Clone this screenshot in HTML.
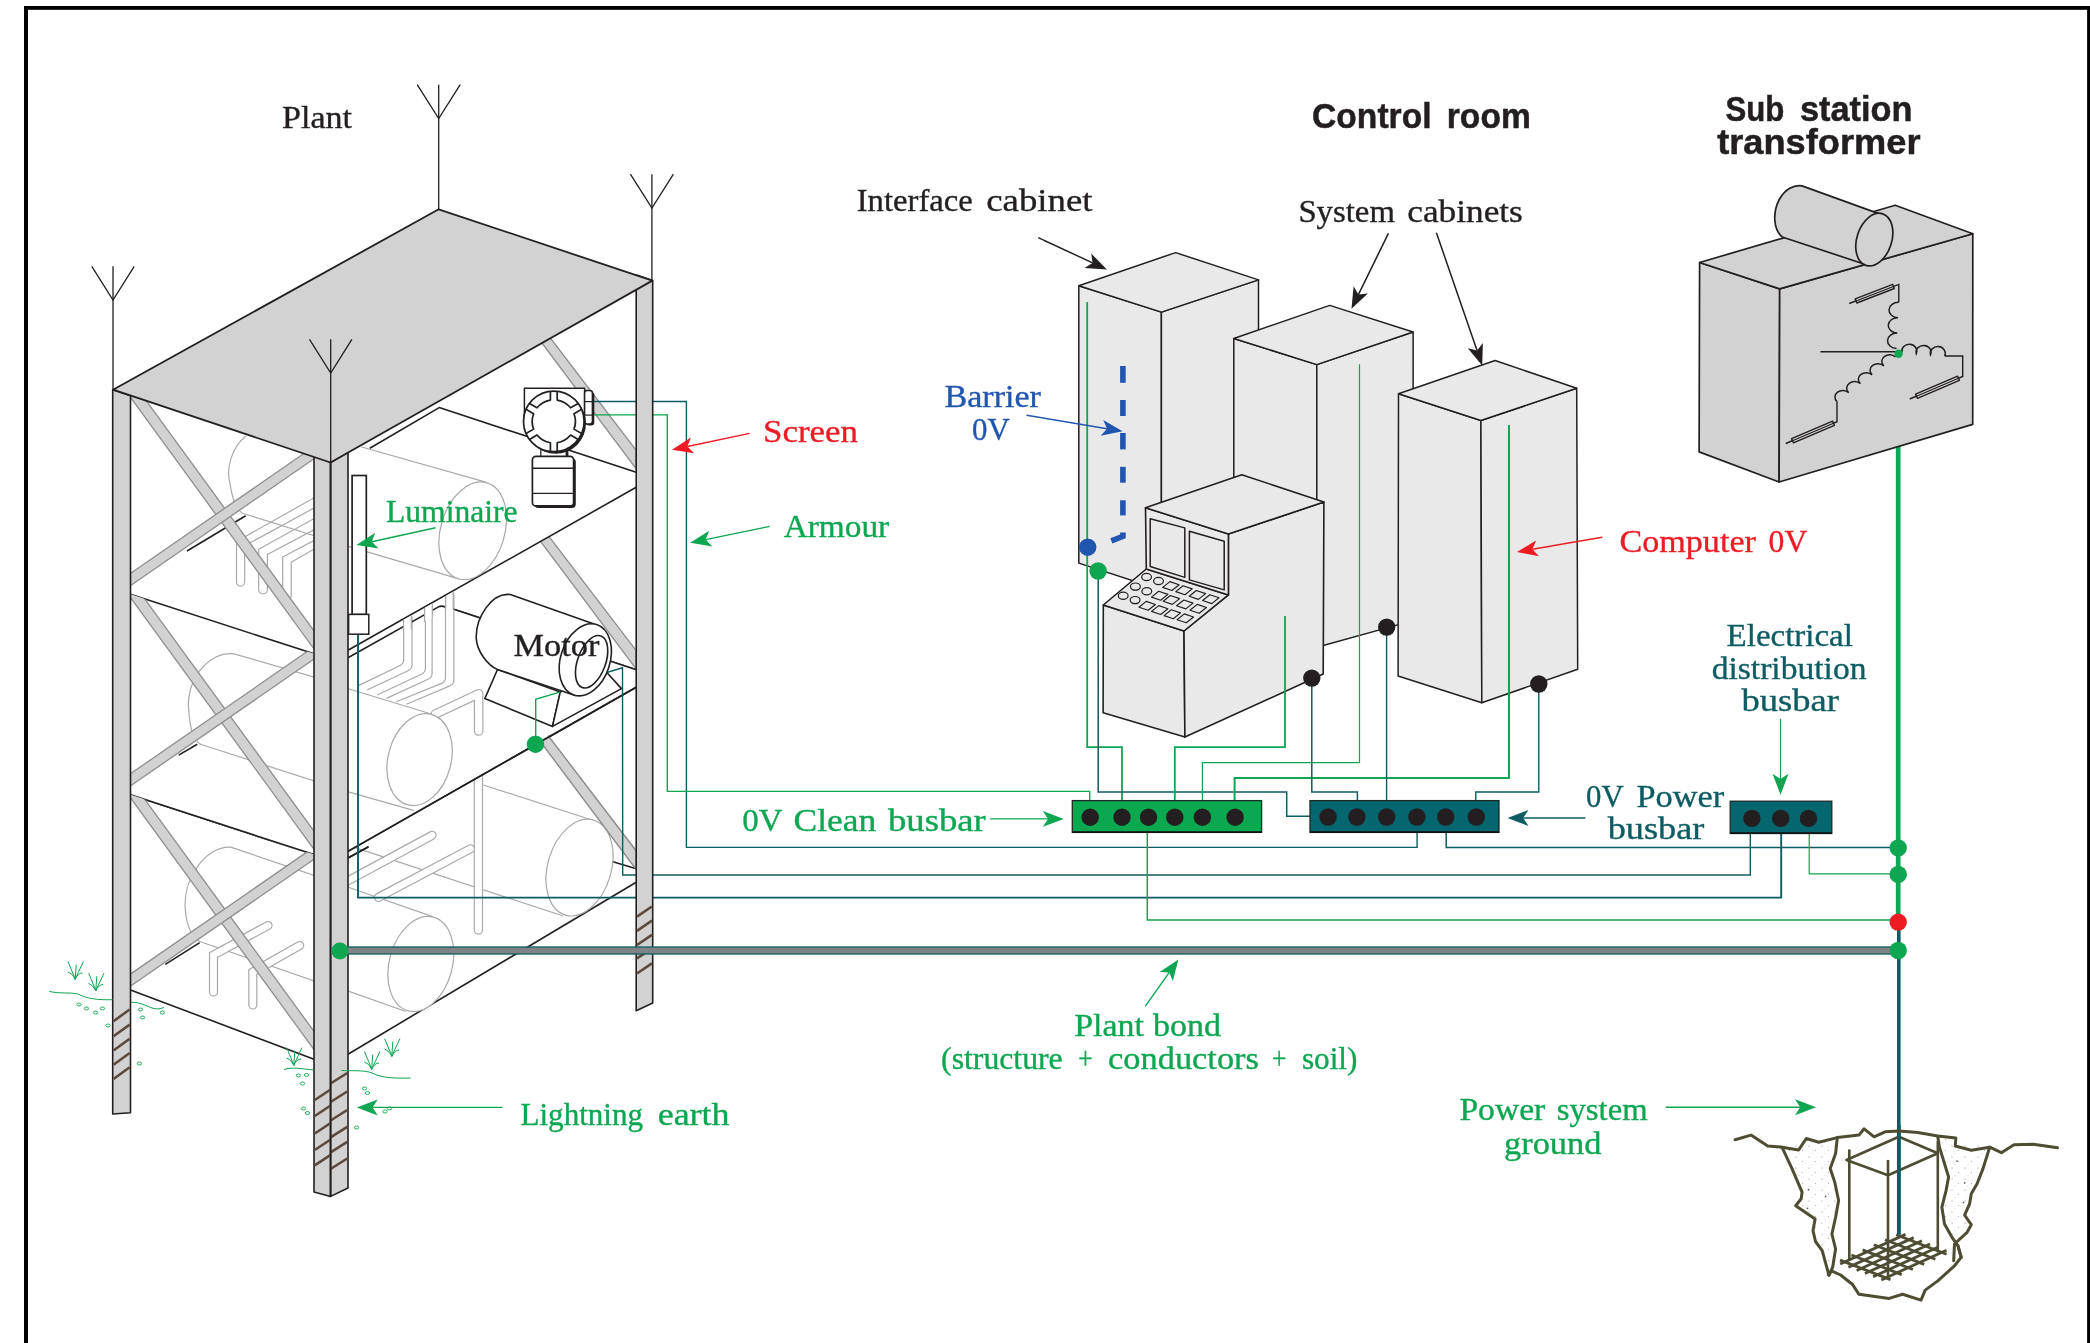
<!DOCTYPE html>
<html><head><meta charset="utf-8"><title>Earthing diagram</title>
<style>
html,body{margin:0;padding:0;background:#fff;overflow:hidden;}
svg{display:block;}
text{font-family:"Liberation Serif",serif;}
.b{font-family:"Liberation Sans",sans-serif;font-weight:bold;}
</style></head><body>
<svg width="2090" height="1343" viewBox="0 0 2090 1343">
<rect x="0" y="0" width="2090" height="1343" fill="#fff"/>
<g id="tower">
<defs>
<clipPath id="bay0"><polygon points="130.5,380.0 314.0,445.0 314.0,653.8 130.5,594.3"/></clipPath>
<clipPath id="bay1"><polygon points="130.5,594.3 314.0,653.8 314.0,854.6 130.5,794.8"/></clipPath>
<clipPath id="bay2"><polygon points="130.5,794.8 314.0,854.6 314.0,1059.2 130.5,989.9"/></clipPath>
<clipPath id="lface"><polygon points="130.5,380.0 314.0,445.0 314.0,1059.2 130.5,989.9"/></clipPath>
<clipPath id="rface"><polygon points="348.0,440.0 636.2,280.0 636.2,885.0 348.0,1056.0"/></clipPath>
</defs>
<line x1="348.0" y1="1054.2" x2="636.2" y2="882.2" stroke="#231f20" stroke-width="1.6" />
<line x1="611.4" y1="861.3" x2="636.2" y2="868.8" stroke="#231f20" stroke-width="1.6" />
<line x1="130.5" y1="989.9" x2="314.0" y2="1059.2" stroke="#231f20" stroke-width="1.6" />
<line x1="165.3" y1="964.4" x2="199.7" y2="942.6" stroke="#231f20" stroke-width="1.6" />
<g clip-path="url(#rface)">
<path d="M592.8,820.3 L483.9,785.2 M562.6,915.8 L348.3,845.4" fill="none" stroke="#a9a9a9" stroke-width="1.2" stroke-linecap="round" stroke-linejoin="round" />
<ellipse cx="579.5" cy="867.6" rx="31.8" ry="49.5" transform="rotate(16.5 579.5 867.6)" fill="#fff" stroke="#a9a9a9" stroke-width="1.2" />
<path d="M432,916.4 L348.3,887.3 M405.2,1011.2 L348.3,991.1" fill="none" stroke="#a9a9a9" stroke-width="1.2" stroke-linecap="round" stroke-linejoin="round" />
<ellipse cx="420.8" cy="964.0" rx="31.5" ry="48.5" transform="rotate(15.0 420.8 964.0)" fill="#fff" stroke="#a9a9a9" stroke-width="1.2" />
<line x1="340.0" y1="885.1" x2="432.0" y2="835.4" stroke="#a9a9a9" stroke-width="9.2" stroke-linecap="round"/>
<line x1="340.0" y1="885.1" x2="432.0" y2="835.4" stroke="#fff" stroke-width="6.8" stroke-linecap="round"/>
<line x1="378.4" y1="897.4" x2="470.5" y2="848.8" stroke="#a9a9a9" stroke-width="9.2" stroke-linecap="round"/>
<line x1="378.4" y1="897.4" x2="470.5" y2="848.8" stroke="#fff" stroke-width="6.8" stroke-linecap="round"/>
<line x1="478.4" y1="770.0" x2="478.4" y2="930.0" stroke="#a9a9a9" stroke-width="9.4" stroke-linecap="round"/>
<line x1="478.4" y1="770.0" x2="478.4" y2="930.0" stroke="#fff" stroke-width="7.0" stroke-linecap="round"/>
</g>
<g clip-path="url(#lface)">
<path d="M314.4,875.6 L230.7,847.1 C205,846 182,880 185.4,910.8 C187,928 193,939 200.5,941.7 L314.4,981" fill="none" stroke="#a9a9a9" stroke-width="1.2" stroke-linecap="round" stroke-linejoin="round" />
<polyline points="213.5,992.0 213.5,955.0 268.0,925.5" fill="none" stroke="#a9a9a9" stroke-width="9.2" stroke-linecap="round" stroke-linejoin="miter"/>
<polyline points="213.5,992.0 213.5,955.0 268.0,925.5" fill="none" stroke="#fff" stroke-width="6.8" stroke-linecap="round" stroke-linejoin="miter"/>
<polyline points="252.8,1005.0 252.8,972.0 299.7,945.5" fill="none" stroke="#a9a9a9" stroke-width="9.2" stroke-linecap="round" stroke-linejoin="miter"/>
<polyline points="252.8,1005.0 252.8,972.0 299.7,945.5" fill="none" stroke="#fff" stroke-width="6.8" stroke-linecap="round" stroke-linejoin="miter"/>
</g>
<polygon points="521.3,700.6 636.2,851.0 636.2,869.4 509.8,700.6" fill="#d2d2d2" stroke="#8e8e8e" stroke-width="1.3" stroke-linejoin="round" />
<polygon points="113.0,787.5 439.7,604.5 652.7,675.0 348.0,851.3 330.6,861.0 130.5,794.8" fill="#fff" stroke="none" stroke-width="0" stroke-linejoin="round" />
<line x1="348.0" y1="851.3" x2="636.2" y2="687.3" stroke="#231f20" stroke-width="1.6" />
<line x1="348.0" y1="858.0" x2="368.5" y2="846.7" stroke="#231f20" stroke-width="1.6" />
<line x1="453.0" y1="608.9" x2="636.2" y2="669.7" stroke="#231f20" stroke-width="1.6" />
<line x1="130.5" y1="794.8" x2="314.0" y2="854.6" stroke="#231f20" stroke-width="1.6" />
<line x1="178.7" y1="755.1" x2="197.2" y2="744.3" stroke="#231f20" stroke-width="1.6" />
<g clip-path="url(#rface)">
<path d="M348.4,688.7 L440.3,716.7 M413.6,810.3 L348.3,791.9" fill="none" stroke="#a9a9a9" stroke-width="1.2" stroke-linecap="round" stroke-linejoin="round" />
<path d="M403.6,620.7 L403.6,660.0 Q403.6,666.0 398.2,668.6 L359.9,687.5" fill="none" stroke="#a9a9a9" stroke-width="1.2" stroke-linecap="round" stroke-linejoin="round" />
<path d="M411.4,617.2 L411.4,664.2 Q411.4,670.2 406.1,672.9 L367.0,692.8" fill="none" stroke="#a9a9a9" stroke-width="1.2" stroke-linecap="round" stroke-linejoin="round" />
<path d="M424.6,608.8 L424.6,667.8 Q424.6,673.8 419.1,676.2 L375.4,695.2" fill="none" stroke="#a9a9a9" stroke-width="1.2" stroke-linecap="round" stroke-linejoin="round" />
<path d="M432.3,605.3 L432.3,673.7 Q432.3,679.7 426.8,682.0 L386.1,698.8" fill="none" stroke="#a9a9a9" stroke-width="1.2" stroke-linecap="round" stroke-linejoin="round" />
<path d="M445.7,596.9 L445.7,674.9 Q445.7,680.9 440.2,683.3 L396.2,702.4" fill="none" stroke="#a9a9a9" stroke-width="1.2" stroke-linecap="round" stroke-linejoin="round" />
<path d="M453.2,592.7 L453.2,677.3 Q453.2,683.3 447.8,685.9 L408.1,705.3" fill="none" stroke="#a9a9a9" stroke-width="1.2" stroke-linecap="round" stroke-linejoin="round" />
<polyline points="213.5,992.0 213.5,955.0 268.0,925.5" fill="none" stroke="#a9a9a9" stroke-width="9.2" stroke-linecap="round" stroke-linejoin="miter"/>
<polyline points="213.5,992.0 213.5,955.0 268.0,925.5" fill="none" stroke="#fff" stroke-width="6.8" stroke-linecap="round" stroke-linejoin="miter"/>
<polyline points="252.8,1005.0 252.8,972.0 299.7,945.5" fill="none" stroke="#a9a9a9" stroke-width="9.2" stroke-linecap="round" stroke-linejoin="miter"/>
<polyline points="252.8,1005.0 252.8,972.0 299.7,945.5" fill="none" stroke="#fff" stroke-width="6.8" stroke-linecap="round" stroke-linejoin="miter"/>
</g>
<polygon points="521.3,700.6 636.2,851.0 636.2,869.4 509.8,700.6" fill="#d2d2d2" stroke="#8e8e8e" stroke-width="1.3" stroke-linejoin="round" />
<polygon points="113.0,787.5 439.7,604.5 652.7,675.0 348.0,851.3 330.6,861.0 130.5,794.8" fill="#fff" stroke="none" stroke-width="0" stroke-linejoin="round" />
<line x1="348.0" y1="851.3" x2="636.2" y2="687.3" stroke="#231f20" stroke-width="1.6" />
<line x1="348.0" y1="858.0" x2="368.5" y2="846.7" stroke="#231f20" stroke-width="1.6" />
<line x1="453.0" y1="608.9" x2="636.2" y2="669.7" stroke="#231f20" stroke-width="1.6" />
<line x1="130.5" y1="794.8" x2="314.0" y2="854.6" stroke="#231f20" stroke-width="1.6" />
<line x1="178.7" y1="755.1" x2="197.2" y2="744.3" stroke="#231f20" stroke-width="1.6" />
<g clip-path="url(#rface)">
<path d="M348.4,688.7 L440.3,716.7 M413.6,810.3 L348.3,791.9" fill="none" stroke="#a9a9a9" stroke-width="1.2" stroke-linecap="round" stroke-linejoin="round" />
<path d="M403.7,620.3 L403.7,659.8 Q403.7,663.8 399.7,665.8 L358.4,685.6" fill="none" stroke="#a9a9a9" stroke-width="1.2" stroke-linecap="round" stroke-linejoin="round" />
<path d="M412.0,616.9 L412.0,664.8 Q412.0,668.8 408.0,670.8 L367.6,689.8" fill="none" stroke="#a9a9a9" stroke-width="1.2" stroke-linecap="round" stroke-linejoin="round" />
<path d="M425.4,610.2 L425.4,668.2 Q425.4,672.2 421.4,674.2 L377.7,694.8" fill="none" stroke="#a9a9a9" stroke-width="1.2" stroke-linecap="round" stroke-linejoin="round" />
<path d="M432.1,606.0 L432.1,673.2 Q432.1,677.2 428.1,679.2 L386.9,698.1" fill="none" stroke="#a9a9a9" stroke-width="1.2" stroke-linecap="round" stroke-linejoin="round" />
<path d="M445.5,598.5 L445.5,677.4 Q445.5,681.4 441.5,683.4 L397.0,701.5" fill="none" stroke="#a9a9a9" stroke-width="1.2" stroke-linecap="round" stroke-linejoin="round" />
<path d="M453.9,593.5 L453.9,679.9 Q453.9,683.9 449.9,685.9 L407.0,704.0" fill="none" stroke="#a9a9a9" stroke-width="1.2" stroke-linecap="round" stroke-linejoin="round" />
<polyline points="435.5,714.0 478.6,693.8 478.7,731.0" fill="none" stroke="#a9a9a9" stroke-width="9.6" stroke-linecap="round" stroke-linejoin="round"/>
<polyline points="435.5,714.0 478.6,693.8 478.7,731.0" fill="none" stroke="#fff" stroke-width="7.2" stroke-linecap="round" stroke-linejoin="round"/>
<ellipse cx="419.6" cy="759.6" rx="31.5" ry="46.7" transform="rotate(14.5 419.6 759.6)" fill="#fff" stroke="#a9a9a9" stroke-width="1.2" />
</g>
<g clip-path="url(#lface)">
<path d="M314.4,677.3 L234,653.8 C206,651 185,684 188.8,710.7 C190,730 195,741 200.5,744.3 L314.4,781.1" fill="none" stroke="#a9a9a9" stroke-width="1.2" stroke-linecap="round" stroke-linejoin="round" />
</g>
<polygon points="521.3,500.3 636.2,650.7 636.2,669.1 509.8,500.3" fill="#d2d2d2" stroke="#8e8e8e" stroke-width="1.3" stroke-linejoin="round" />
<path d="M497.5,669.5 L484.8,698.6 L552.5,726.4 L560.3,691.9 Z" fill="#fff" stroke="#231f20" stroke-width="1.6" stroke-linejoin="round"/>
<path d="M552.5,726.4 L621.5,688.6 L606.8,672.5 L560.3,691.9 Z" fill="#fff" stroke="#231f20" stroke-width="1.6" stroke-linejoin="round"/>
<path d="M510.3,594.5 L594.0,624.0 L575.3,695.5 L497.5,669.5 C488.8,665.8 476.8,652.4 476.2,637.6 C475.8,618.9 490.8,592.1 510.3,594.5 Z" fill="#fff" stroke="#231f20" stroke-width="1.6" stroke-linejoin="round"/>
<ellipse cx="585.3" cy="659.8" rx="24.7" ry="37.0" transform="rotate(18.0 585.3 659.8)" fill="#fff" stroke="#231f20" stroke-width="1.6" />
<ellipse cx="591.6" cy="661.8" rx="14.0" ry="27.4" transform="rotate(20.0 591.6 661.8)" fill="#fff" stroke="#231f20" stroke-width="1.6" />
<polyline points="560.3,691.9 535.7,699.3 535.7,744.2" fill="none" stroke="#0ea651" stroke-width="1.4" />
<circle cx="535.5" cy="744.2" r="8.7" fill="#0ea651" />
<polyline points="606.8,672.5 622.5,667.8 622.7,875.0 1750.3,875.0 1750.3,833.0" fill="none" stroke="#0d5c63" stroke-width="1.4" />
<polygon points="113.0,587.0 439.7,408.2 652.7,478.0 348.0,651.5 330.6,661.0 130.5,594.3" fill="#fff" stroke="none" stroke-width="0" stroke-linejoin="round" />
<line x1="348.0" y1="650.3" x2="636.2" y2="487.3" stroke="#231f20" stroke-width="1.6" />
<path d="M348.0,657.7 L438.5,606.9 Q441.5,605.2 445.1,607" fill="none" stroke="#231f20" stroke-width="1.6" />
<polyline points="369.8,448.2 439.2,407.6 636.2,472.2" fill="none" stroke="#231f20" stroke-width="1.6" stroke-linejoin="round"/>
<line x1="187.0" y1="551.0" x2="245.7" y2="515.7" stroke="#231f20" stroke-width="1.6" />
<line x1="130.5" y1="594.3" x2="314.0" y2="653.8" stroke="#231f20" stroke-width="1.6" />
<polygon points="403.6,619.8 411.4,615.4 411.4,629.4 403.6,633.8" fill="#fff" stroke="none" stroke-width="0" stroke-linejoin="round" />
<line x1="403.6" y1="619.8" x2="403.6" y2="633.8" stroke="#a9a9a9" stroke-width="1.2" />
<line x1="411.4" y1="615.4" x2="411.4" y2="629.4" stroke="#a9a9a9" stroke-width="1.2" />
<polygon points="424.6,607.9 432.3,603.6 432.3,617.6 424.6,621.9" fill="#fff" stroke="none" stroke-width="0" stroke-linejoin="round" />
<line x1="424.6" y1="607.9" x2="424.6" y2="621.9" stroke="#a9a9a9" stroke-width="1.2" />
<line x1="432.3" y1="603.6" x2="432.3" y2="617.6" stroke="#a9a9a9" stroke-width="1.2" />
<polygon points="445.7,596.0 453.2,591.7 453.2,605.7 445.7,610.0" fill="#fff" stroke="none" stroke-width="0" stroke-linejoin="round" />
<line x1="445.7" y1="596.0" x2="445.7" y2="610.0" stroke="#a9a9a9" stroke-width="1.2" />
<line x1="453.2" y1="591.7" x2="453.2" y2="605.7" stroke="#a9a9a9" stroke-width="1.2" />
<g clip-path="url(#rface)">
<path d="M485.7,482.2 L361.8,447 M460.6,579.4 L348.4,546.3" fill="none" stroke="#a9a9a9" stroke-width="1.2" stroke-linecap="round" stroke-linejoin="round" />
<ellipse cx="472.7" cy="530.8" rx="32.0" ry="50.0" transform="rotate(16.5 472.7 530.8)" fill="#fff" stroke="#a9a9a9" stroke-width="1.2" />
</g>
<g clip-path="url(#lface)">
<path d="M245.7,436.2 C232,447 226,468 229.8,482.2 C232,499 236,509 242.4,513.2 L314.4,535.8" fill="none" stroke="#a9a9a9" stroke-width="1.2" stroke-linecap="round" stroke-linejoin="round" />
<path d="M313.9,497.9 L236.5,541.4 L236.5,582 A4.1,4.1 0 0 0 244.7,582 L244.7,545.8 L313.9,508.1" fill="none" stroke="#a9a9a9" stroke-width="1.2" stroke-linecap="round" stroke-linejoin="round" />
<path d="M313.9,518.7 L258.7,549.2 L258.7,589.4 A4.35,4.35 0 0 0 267.4,589.4 L267.4,554.5 L313.9,529.9" fill="none" stroke="#a9a9a9" stroke-width="1.2" stroke-linecap="round" stroke-linejoin="round" />
<path d="M313.9,540.5 L282.7,557 L282.7,596 A4.25,4.25 0 0 0 291.2,596 L291.2,562.3 L313.9,549.2" fill="none" stroke="#a9a9a9" stroke-width="1.2" stroke-linecap="round" stroke-linejoin="round" />
</g>
<polygon points="521.3,300.0 636.2,450.4 636.2,468.8 509.8,300.0" fill="#d2d2d2" stroke="#8e8e8e" stroke-width="1.3" stroke-linejoin="round" />
<g stroke-linejoin="round">
<path d="M524.4,422 L524.4,388.3 L584.6,388.3 L584.6,422" fill="#fff" stroke="#231f20" stroke-width="1.5" />
<rect x="586.0" y="392.0" width="8.3" height="33.4" rx="3" fill="#231f20"/>
<rect x="584.6" y="390.6" width="7.8" height="33.4" rx="2.5" fill="#fff" stroke="#231f20" stroke-width="1.5"/>
<line x1="584.6" y1="401.6" x2="592.4" y2="401.6" stroke="#231f20" stroke-width="1.2" />
<line x1="584.6" y1="415.1" x2="592.4" y2="415.1" stroke="#231f20" stroke-width="1.2" />
<rect x="540.2" y="449" width="28.2" height="9" fill="#231f20"/>
<rect x="541.4" y="449" width="24.2" height="9" fill="#fff"/>
<circle cx="555.7" cy="423.5" r="30.3" fill="#231f20" />
<circle cx="553.8" cy="421.4" r="30.3" fill="#fff" stroke="#231f20" stroke-width="1.7"/>
<path d="M557.20,391.29 L557.20,400.07 A21.6,21.6 0 0 1 570.57,407.79 L578.17,403.40" fill="none" stroke="#231f20" stroke-width="1.7" />
<path d="M581.57,409.29 L573.97,413.68 A21.6,21.6 0 0 1 573.97,429.12 L581.57,433.51" fill="none" stroke="#231f20" stroke-width="1.7" />
<path d="M578.17,439.40 L570.57,435.01 A21.6,21.6 0 0 1 557.20,442.73 L557.20,451.51" fill="none" stroke="#231f20" stroke-width="1.7" />
<path d="M550.40,451.51 L550.40,442.73 A21.6,21.6 0 0 1 537.03,435.01 L529.43,439.40" fill="none" stroke="#231f20" stroke-width="1.7" />
<path d="M526.03,433.51 L533.63,429.12 A21.6,21.6 0 0 1 533.63,413.68 L526.03,409.29" fill="none" stroke="#231f20" stroke-width="1.7" />
<path d="M529.43,403.40 L537.03,407.79 A21.6,21.6 0 0 1 550.40,400.07 L550.40,391.29" fill="none" stroke="#231f20" stroke-width="1.7" />
<rect x="534.4" y="458.3" width="41.4" height="49.8" rx="4" fill="#231f20"/>
<rect x="532.4" y="456.3" width="41.2" height="49.6" rx="3.5" fill="#fff" stroke="#231f20" stroke-width="1.7"/>
<line x1="532.4" y1="468.3" x2="573.6" y2="468.3" stroke="#231f20" stroke-width="1.4" />
<line x1="532.4" y1="493.4" x2="573.6" y2="493.4" stroke="#231f20" stroke-width="1.4" />
</g>
<polyline points="594.0,401.5 686.4,401.5 686.4,847.4 1417.1,847.4 1417.1,832.6" fill="none" stroke="#0d5c63" stroke-width="1.4" />
<polyline points="594.0,414.9 667.3,414.9 667.3,791.4 1089.7,791.4 1089.7,801.0" fill="none" stroke="#0ea651" stroke-width="1.4" />
<polyline points="358.0,634.2 358.0,897.6 1781.2,897.6 1781.2,833.0" fill="none" stroke="#0d5c63" stroke-width="1.9" />
<g clip-path="url(#bay0)">
<line x1="110.8" y1="361.2" x2="334.4" y2="667.9" stroke="#8e8e8e" stroke-width="12.0" />
<line x1="110.8" y1="361.2" x2="334.4" y2="667.9" stroke="#d2d2d2" stroke-width="9.399999999999999" />
</g>
<g clip-path="url(#bay0)">
<line x1="110.7" y1="593.2" x2="334.4" y2="438.5" stroke="#8e8e8e" stroke-width="11.3" />
<line x1="110.7" y1="593.2" x2="334.4" y2="438.5" stroke="#d2d2d2" stroke-width="8.7" />
</g>
<g clip-path="url(#bay1)">
<line x1="110.8" y1="561.5" x2="334.4" y2="868.2" stroke="#8e8e8e" stroke-width="12.0" />
<line x1="110.8" y1="561.5" x2="334.4" y2="868.2" stroke="#d2d2d2" stroke-width="9.399999999999999" />
</g>
<g clip-path="url(#bay1)">
<line x1="110.7" y1="793.5" x2="334.4" y2="638.8" stroke="#8e8e8e" stroke-width="11.3" />
<line x1="110.7" y1="793.5" x2="334.4" y2="638.8" stroke="#d2d2d2" stroke-width="8.7" />
</g>
<g clip-path="url(#bay2)">
<line x1="110.8" y1="761.8" x2="334.4" y2="1068.5" stroke="#8e8e8e" stroke-width="12.0" />
<line x1="110.8" y1="761.8" x2="334.4" y2="1068.5" stroke="#d2d2d2" stroke-width="9.399999999999999" />
</g>
<g clip-path="url(#bay2)">
<line x1="110.7" y1="993.8" x2="334.4" y2="839.1" stroke="#8e8e8e" stroke-width="11.3" />
<line x1="110.7" y1="993.8" x2="334.4" y2="839.1" stroke="#d2d2d2" stroke-width="8.7" />
</g>
<polygon points="112.7,389.7 130.5,395.7 130.5,1112.7 112.7,1114.0" fill="#d2d2d2" stroke="#231f20" stroke-width="1.6" stroke-linejoin="round" />
<line x1="113.5" y1="1021.2" x2="129.7" y2="1009.5" stroke="#5d4a3c" stroke-width="2.6" />
<line x1="113.5" y1="1036.3" x2="129.7" y2="1024.6" stroke="#5d4a3c" stroke-width="2.6" />
<line x1="113.5" y1="1050.5" x2="129.7" y2="1038.8" stroke="#5d4a3c" stroke-width="2.6" />
<line x1="113.5" y1="1064.7" x2="129.7" y2="1053.0" stroke="#5d4a3c" stroke-width="2.6" />
<line x1="113.5" y1="1079.0" x2="129.7" y2="1067.3" stroke="#5d4a3c" stroke-width="2.6" />
<polygon points="636.2,275.0 652.7,280.6 652.7,1003.0 636.2,1010.8" fill="#d2d2d2" stroke="#231f20" stroke-width="1.6" stroke-linejoin="round" />
<line x1="637.0" y1="916.6" x2="651.9" y2="906.5" stroke="#5d4a3c" stroke-width="2.6" />
<line x1="637.0" y1="930.8" x2="651.9" y2="920.7" stroke="#5d4a3c" stroke-width="2.6" />
<line x1="637.0" y1="945.0" x2="651.9" y2="934.9" stroke="#5d4a3c" stroke-width="2.6" />
<line x1="637.0" y1="958.4" x2="651.9" y2="948.3" stroke="#5d4a3c" stroke-width="2.6" />
<line x1="637.0" y1="973.5" x2="651.9" y2="963.4" stroke="#5d4a3c" stroke-width="2.6" />
<polygon points="314.0,455.0 330.6,462.5 330.6,1196.4 314.0,1192.0" fill="#d2d2d2" stroke="#231f20" stroke-width="1.6" stroke-linejoin="round" />
<polygon points="330.6,462.5 348.0,452.2 348.0,1188.0 330.6,1196.4" fill="#d2d2d2" stroke="#231f20" stroke-width="1.6" stroke-linejoin="round" />
<line x1="314.8" y1="1100.0" x2="330.6" y2="1089.5" stroke="#5d4a3c" stroke-width="2.6" />
<line x1="314.8" y1="1116.0" x2="330.6" y2="1105.5" stroke="#5d4a3c" stroke-width="2.6" />
<line x1="314.8" y1="1133.5" x2="330.6" y2="1123.0" stroke="#5d4a3c" stroke-width="2.6" />
<line x1="314.8" y1="1150.0" x2="330.6" y2="1139.5" stroke="#5d4a3c" stroke-width="2.6" />
<line x1="314.8" y1="1165.3" x2="330.6" y2="1154.8" stroke="#5d4a3c" stroke-width="2.6" />
<line x1="330.6" y1="1083.5" x2="347.2" y2="1073.0" stroke="#5d4a3c" stroke-width="2.6" />
<line x1="330.6" y1="1102.0" x2="347.2" y2="1091.5" stroke="#5d4a3c" stroke-width="2.6" />
<line x1="330.6" y1="1120.5" x2="347.2" y2="1110.0" stroke="#5d4a3c" stroke-width="2.6" />
<line x1="330.6" y1="1137.3" x2="347.2" y2="1126.8" stroke="#5d4a3c" stroke-width="2.6" />
<line x1="330.6" y1="1152.3" x2="347.2" y2="1141.8" stroke="#5d4a3c" stroke-width="2.6" />
<line x1="330.6" y1="1169.0" x2="347.2" y2="1158.5" stroke="#5d4a3c" stroke-width="2.6" />
<line x1="330.6" y1="462.5" x2="330.6" y2="1196.4" stroke="#231f20" stroke-width="1.6" />
<polygon points="438.7,209.3 652.4,280.6 330.5,462.5 113.0,389.7" fill="#d2d2d2" stroke="#231f20" stroke-width="1.8" stroke-linejoin="round" />
<line x1="438.7" y1="209.3" x2="438.7" y2="84.7" stroke="#231f20" stroke-width="1.3" />
<polyline points="417.2,84.7 438.7,118.5 460.2,84.7" fill="none" stroke="#231f20" stroke-width="1.3" />
<line x1="651.9" y1="280.6" x2="651.9" y2="174.2" stroke="#231f20" stroke-width="1.3" />
<polyline points="630.4,174.2 651.9,208.0 673.4,174.2" fill="none" stroke="#231f20" stroke-width="1.3" />
<line x1="113.0" y1="389.7" x2="113.0" y2="266.3" stroke="#231f20" stroke-width="1.3" />
<polyline points="91.8,266.3 113.0,300.1 134.2,266.3" fill="none" stroke="#231f20" stroke-width="1.3" />
<line x1="330.7" y1="462.5" x2="330.7" y2="339.3" stroke="#231f20" stroke-width="1.3" />
<polyline points="309.5,339.3 330.7,373.1 351.9,339.3" fill="none" stroke="#231f20" stroke-width="1.3" />
<rect x="352.1" y="475.5" width="14.2" height="139" fill="#fff" stroke="#231f20" stroke-width="1.7"/>
<rect x="348.6" y="614.4" width="20.2" height="19.8" fill="#fff" stroke="#231f20" stroke-width="1.5"/>
<path d="M75.2,979.0 l-7.0,-17.0 M75.2,979.0 l1.0,-14.0 M75.2,979.0 l8.0,-17.0 M75.2,979.0 q-3.0,-6.0 -7.0,-7.0 M75.2,979.0 q3.0,-6.0 7.0,-6.0" fill="none" stroke="#0ea651" stroke-width="1.0" stroke-linecap="round"/>
<path d="M95.8,990.5 l-7.0,-17.0 M95.8,990.5 l1.0,-14.0 M95.8,990.5 l8.0,-17.0 M95.8,990.5 q-3.0,-6.0 -7.0,-7.0 M95.8,990.5 q3.0,-6.0 7.0,-6.0" fill="none" stroke="#0ea651" stroke-width="1.0" stroke-linecap="round"/>
<path d="M293.8,1065.0 l-7.0,-17.0 M293.8,1065.0 l1.0,-14.0 M293.8,1065.0 l8.0,-17.0 M293.8,1065.0 q-3.0,-6.0 -7.0,-7.0 M293.8,1065.0 q3.0,-6.0 7.0,-6.0" fill="none" stroke="#0ea651" stroke-width="1.0" stroke-linecap="round"/>
<path d="M371.7,1069.0 l-7.0,-17.0 M371.7,1069.0 l1.0,-14.0 M371.7,1069.0 l8.0,-17.0 M371.7,1069.0 q-3.0,-6.0 -7.0,-7.0 M371.7,1069.0 q3.0,-6.0 7.0,-6.0" fill="none" stroke="#0ea651" stroke-width="1.0" stroke-linecap="round"/>
<path d="M391.8,1056.0 l-7.0,-17.0 M391.8,1056.0 l1.0,-14.0 M391.8,1056.0 l8.0,-17.0 M391.8,1056.0 q-3.0,-6.0 -7.0,-7.0 M391.8,1056.0 q3.0,-6.0 7.0,-6.0" fill="none" stroke="#0ea651" stroke-width="1.0" stroke-linecap="round"/>
<path d="M49.2,991.5 C60,994 70,992 78,994 C88,999 98,1000 112.4,999.7" fill="none" stroke="#0ea651" stroke-width="1.0" />
<path d="M131,1002.3 C140,1002 146,1006 152,1008 C157,1009.5 160,1009 164,1007.5" fill="none" stroke="#0ea651" stroke-width="1.0" />
<path d="M284,1069.5 C292,1067 300,1068.5 313.5,1070" fill="none" stroke="#0ea651" stroke-width="1.0" />
<path d="M341.5,1070.5 C352,1071 365,1070 372,1073 C382,1078 395,1078.5 410.5,1078" fill="none" stroke="#0ea651" stroke-width="1.0" />
<ellipse cx="79.0" cy="1004.5" rx="2.2" ry="1.5" fill="none" stroke="#0ea651" stroke-width="0.9"/>
<ellipse cx="86.5" cy="1008.5" rx="2.2" ry="1.5" fill="none" stroke="#0ea651" stroke-width="0.9"/>
<ellipse cx="95.5" cy="1012.5" rx="2.2" ry="1.5" fill="none" stroke="#0ea651" stroke-width="0.9"/>
<ellipse cx="102.5" cy="1008.5" rx="2.2" ry="1.5" fill="none" stroke="#0ea651" stroke-width="0.9"/>
<ellipse cx="108.0" cy="1025.5" rx="2.2" ry="1.5" fill="none" stroke="#0ea651" stroke-width="0.9"/>
<ellipse cx="140.5" cy="1009.5" rx="2.2" ry="1.5" fill="none" stroke="#0ea651" stroke-width="0.9"/>
<ellipse cx="142.5" cy="1017.5" rx="2.2" ry="1.5" fill="none" stroke="#0ea651" stroke-width="0.9"/>
<ellipse cx="162.5" cy="1012.5" rx="2.2" ry="1.5" fill="none" stroke="#0ea651" stroke-width="0.9"/>
<ellipse cx="139.5" cy="1063.5" rx="2.2" ry="1.5" fill="none" stroke="#0ea651" stroke-width="0.9"/>
<ellipse cx="298.5" cy="1075.5" rx="2.2" ry="1.5" fill="none" stroke="#0ea651" stroke-width="0.9"/>
<ellipse cx="306.5" cy="1075.0" rx="2.2" ry="1.5" fill="none" stroke="#0ea651" stroke-width="0.9"/>
<ellipse cx="302.5" cy="1083.5" rx="2.2" ry="1.5" fill="none" stroke="#0ea651" stroke-width="0.9"/>
<ellipse cx="303.5" cy="1108.5" rx="2.2" ry="1.5" fill="none" stroke="#0ea651" stroke-width="0.9"/>
<ellipse cx="307.5" cy="1113.0" rx="2.2" ry="1.5" fill="none" stroke="#0ea651" stroke-width="0.9"/>
<ellipse cx="364.5" cy="1088.5" rx="2.2" ry="1.5" fill="none" stroke="#0ea651" stroke-width="0.9"/>
<ellipse cx="367.5" cy="1093.0" rx="2.2" ry="1.5" fill="none" stroke="#0ea651" stroke-width="0.9"/>
<ellipse cx="385.0" cy="1111.5" rx="2.2" ry="1.5" fill="none" stroke="#0ea651" stroke-width="0.9"/>
<ellipse cx="389.5" cy="1108.5" rx="2.2" ry="1.5" fill="none" stroke="#0ea651" stroke-width="0.9"/>
<ellipse cx="356.5" cy="1127.5" rx="2.2" ry="1.5" fill="none" stroke="#0ea651" stroke-width="0.9"/>
</g>
<g id="ctrl">
<polygon points="1078.8,285.8 1161.4,312.1 1161.4,590.0 1078.8,563.1" fill="#e9e9e9" stroke="#231f20" stroke-width="1.5" stroke-linejoin="round" />
<polygon points="1161.4,312.1 1258.5,279.9 1258.5,557.8 1161.4,590.0" fill="#e9e9e9" stroke="#231f20" stroke-width="1.5" stroke-linejoin="round" />
<polygon points="1078.8,285.8 1175.6,252.6 1258.5,279.9 1161.4,312.1" fill="#e9e9e9" stroke="#231f20" stroke-width="1.5" stroke-linejoin="round" />
<polygon points="1233.8,338.5 1316.8,364.6 1316.8,647.2 1233.8,620.0" fill="#e9e9e9" stroke="#231f20" stroke-width="1.5" stroke-linejoin="round" />
<polygon points="1316.8,364.6 1413.1,332.0 1413.1,620.6 1316.8,647.2" fill="#e9e9e9" stroke="#231f20" stroke-width="1.5" stroke-linejoin="round" />
<polygon points="1233.8,338.5 1329.7,305.4 1413.1,332.0 1316.8,364.6" fill="#e9e9e9" stroke="#231f20" stroke-width="1.5" stroke-linejoin="round" />
<polygon points="1103.3,605.0 1184.0,631.0 1184.9,737.1 1103.1,712.7" fill="#e9e9e9" stroke="#231f20" stroke-width="1.6" stroke-linejoin="round" />
<polygon points="1228.4,534.1 1323.9,502.0 1323.2,674.1 1184.9,737.1 1184.0,631.0 1228.4,594.9" fill="#e9e9e9" stroke="#231f20" stroke-width="1.6" stroke-linejoin="round" />
<polygon points="1146.3,569.0 1228.4,594.9 1184.0,631.0 1103.3,605.0" fill="#e9e9e9" stroke="#231f20" stroke-width="1.6" stroke-linejoin="round" />
<polygon points="1145.5,507.8 1228.4,534.1 1228.4,594.9 1146.3,569.0" fill="#e9e9e9" stroke="#231f20" stroke-width="1.6" stroke-linejoin="round" />
<polygon points="1145.5,507.8 1241.8,474.7 1323.9,502.0 1228.4,534.1" fill="#e9e9e9" stroke="#231f20" stroke-width="1.6" stroke-linejoin="round" />
<polygon points="1150.2,518.7 1184.8,527.9 1184.8,577.4 1150.2,566.5" fill="#e9e9e9" stroke="#231f20" stroke-width="1.5" stroke-linejoin="round" />
<polygon points="1189.4,531.3 1224.2,541.3 1224.2,589.9 1189.4,579.9" fill="#e9e9e9" stroke="#231f20" stroke-width="1.5" stroke-linejoin="round" />
<ellipse cx="1146.6" cy="577.0" rx="4.9" ry="3.6" fill="#e9e9e9" stroke="#231f20" stroke-width="1.2"/>
<ellipse cx="1158.5" cy="581.0" rx="4.9" ry="3.6" fill="#e9e9e9" stroke="#231f20" stroke-width="1.2"/>
<ellipse cx="1135.4" cy="586.6" rx="4.9" ry="3.6" fill="#e9e9e9" stroke="#231f20" stroke-width="1.2"/>
<ellipse cx="1146.8" cy="591.3" rx="4.9" ry="3.6" fill="#e9e9e9" stroke="#231f20" stroke-width="1.2"/>
<ellipse cx="1123.2" cy="595.8" rx="4.9" ry="3.6" fill="#e9e9e9" stroke="#231f20" stroke-width="1.2"/>
<ellipse cx="1135.1" cy="600.1" rx="4.9" ry="3.6" fill="#e9e9e9" stroke="#231f20" stroke-width="1.2"/>
<polygon points="1169.9,581.6 1179.1,584.7 1171.9,590.5 1162.7,587.4" fill="#e9e9e9" stroke="#231f20" stroke-width="1.2" stroke-linejoin="round" />
<polygon points="1183.0,585.8 1192.2,588.9 1185.0,594.7 1175.8,591.6" fill="#e9e9e9" stroke="#231f20" stroke-width="1.2" stroke-linejoin="round" />
<polygon points="1196.4,590.5 1205.6,593.6 1198.4,599.4 1189.2,596.3" fill="#e9e9e9" stroke="#231f20" stroke-width="1.2" stroke-linejoin="round" />
<polygon points="1209.8,594.7 1219.0,597.8 1211.8,603.6 1202.6,600.5" fill="#e9e9e9" stroke="#231f20" stroke-width="1.2" stroke-linejoin="round" />
<polygon points="1158.7,591.3 1167.9,594.4 1160.7,600.2 1151.5,597.1" fill="#e9e9e9" stroke="#231f20" stroke-width="1.2" stroke-linejoin="round" />
<polygon points="1170.4,595.5 1179.6,598.6 1172.4,604.4 1163.2,601.3" fill="#e9e9e9" stroke="#231f20" stroke-width="1.2" stroke-linejoin="round" />
<polygon points="1183.8,600.0 1193.0,603.1 1185.8,608.9 1176.6,605.8" fill="#e9e9e9" stroke="#231f20" stroke-width="1.2" stroke-linejoin="round" />
<polygon points="1197.2,604.4 1206.4,607.5 1199.2,613.3 1190.0,610.2" fill="#e9e9e9" stroke="#231f20" stroke-width="1.2" stroke-linejoin="round" />
<polygon points="1146.2,601.4 1155.4,604.5 1148.2,610.3 1139.0,607.2" fill="#e9e9e9" stroke="#231f20" stroke-width="1.2" stroke-linejoin="round" />
<polygon points="1158.7,605.6 1167.9,608.7 1160.7,614.5 1151.5,611.4" fill="#e9e9e9" stroke="#231f20" stroke-width="1.2" stroke-linejoin="round" />
<polygon points="1171.3,609.8 1180.5,612.9 1173.3,618.7 1164.1,615.6" fill="#e9e9e9" stroke="#231f20" stroke-width="1.2" stroke-linejoin="round" />
<polygon points="1184.3,613.9 1193.5,617.0 1186.3,622.8 1177.1,619.7" fill="#e9e9e9" stroke="#231f20" stroke-width="1.2" stroke-linejoin="round" />
<polygon points="1398.5,393.7 1480.9,420.5 1481.8,702.8 1398.1,676.0" fill="#e9e9e9" stroke="#231f20" stroke-width="1.5" stroke-linejoin="round" />
<polygon points="1480.9,420.5 1576.7,388.3 1577.7,669.3 1481.8,702.8" fill="#e9e9e9" stroke="#231f20" stroke-width="1.5" stroke-linejoin="round" />
<polygon points="1398.5,393.7 1495.1,360.5 1576.7,388.3 1480.9,420.5" fill="#e9e9e9" stroke="#231f20" stroke-width="1.5" stroke-linejoin="round" />
<line x1="1122.9" y1="366.0" x2="1122.9" y2="382.8" stroke="#2156ae" stroke-width="5.6" />
<line x1="1122.9" y1="400.0" x2="1122.9" y2="416.0" stroke="#2156ae" stroke-width="5.6" />
<line x1="1122.9" y1="433.0" x2="1122.9" y2="449.4" stroke="#2156ae" stroke-width="5.6" />
<line x1="1122.9" y1="466.8" x2="1122.9" y2="482.7" stroke="#2156ae" stroke-width="5.6" />
<line x1="1122.9" y1="500.3" x2="1122.9" y2="515.4" stroke="#2156ae" stroke-width="5.6" />
<path d="M1122.9,532.6 L1122.9,536.4 L1111.3,540.8" fill="none" stroke="#2156ae" stroke-width="5.6" />
<polyline points="1087.2,302.0 1087.2,747.2 1122.0,747.2 1122.0,801.0" fill="none" stroke="#0ea651" stroke-width="1.8" />
<polyline points="1098.2,571.0 1098.2,792.0 1286.7,792.0 1286.7,816.3 1310.5,816.3" fill="none" stroke="#0d5c63" stroke-width="1.5" />
<polyline points="1285.0,615.9 1285.0,747.2 1174.8,747.2 1174.8,801.0" fill="none" stroke="#0ea651" stroke-width="1.8" />
<polyline points="1359.5,364.3 1359.5,762.6 1202.4,762.6 1202.4,801.0" fill="none" stroke="#0ea651" stroke-width="1.2" />
<polyline points="1509.0,425.1 1509.0,778.1 1234.6,778.1 1234.6,801.0" fill="none" stroke="#0ea651" stroke-width="2.0" />
<polyline points="1311.8,678.1 1311.8,792.0 1357.4,792.0 1357.4,801.0" fill="none" stroke="#0d5c63" stroke-width="1.5" />
<line x1="1386.6" y1="627.1" x2="1386.6" y2="801.0" stroke="#0d5c63" stroke-width="1.4" />
<polyline points="1538.8,684.0 1538.8,792.0 1475.8,792.0 1475.8,801.0" fill="none" stroke="#0d5c63" stroke-width="1.4" />
<polyline points="1147.3,832.0 1147.3,920.0 1898.2,920.0" fill="none" stroke="#0ea651" stroke-width="1.5" />
<polyline points="1446.2,832.0 1446.2,847.6 1898.2,847.6" fill="none" stroke="#0d5c63" stroke-width="1.5" />
<polyline points="1809.2,833.0 1809.2,873.8 1898.2,873.8" fill="none" stroke="#0ea651" stroke-width="1.2" />
<circle cx="1087.7" cy="547.2" r="8.7" fill="#2156ae" />
<circle cx="1098.1" cy="571.0" r="8.7" fill="#0ea651" />
<circle cx="1311.8" cy="678.1" r="8.7" fill="#231f20" />
<circle cx="1386.7" cy="627.1" r="8.7" fill="#231f20" />
<circle cx="1538.8" cy="684.0" r="8.7" fill="#231f20" />
<rect x="1072.3" y="800.6" width="189.3" height="31.8" fill="#0aa84f" stroke="#1d2a24" stroke-width="1.3"/>
<line x1="1072.3" y1="832.1" x2="1261.6" y2="832.1" stroke="#111" stroke-width="1.8" />
<circle cx="1090.2" cy="817.2" r="8.7" fill="#231f20" />
<circle cx="1122.0" cy="817.2" r="8.7" fill="#231f20" />
<circle cx="1148.5" cy="817.2" r="8.7" fill="#231f20" />
<circle cx="1174.8" cy="817.2" r="8.7" fill="#231f20" />
<circle cx="1202.4" cy="817.2" r="8.7" fill="#231f20" />
<circle cx="1235.1" cy="817.2" r="8.7" fill="#231f20" />
<rect x="1310.0" y="800.6" width="189.0" height="31.8" fill="#04666e" stroke="#1d2a24" stroke-width="1.3"/>
<line x1="1310.0" y1="832.1" x2="1499.0" y2="832.1" stroke="#111" stroke-width="1.8" />
<circle cx="1328.1" cy="817.0" r="8.7" fill="#231f20" />
<circle cx="1356.9" cy="817.0" r="8.7" fill="#231f20" />
<circle cx="1386.7" cy="817.0" r="8.7" fill="#231f20" />
<circle cx="1416.9" cy="817.0" r="8.7" fill="#231f20" />
<circle cx="1445.7" cy="817.0" r="8.7" fill="#231f20" />
<circle cx="1476.3" cy="817.0" r="8.7" fill="#231f20" />
<rect x="1730.2" y="801.2" width="101.6" height="32.3" fill="#04666e" stroke="#1d2a24" stroke-width="1.3"/>
<line x1="1730.2" y1="833.2" x2="1831.8" y2="833.2" stroke="#111" stroke-width="1.8" />
<circle cx="1751.9" cy="818.4" r="8.7" fill="#231f20" />
<circle cx="1780.7" cy="818.4" r="8.7" fill="#231f20" />
<circle cx="1808.5" cy="818.4" r="8.7" fill="#231f20" />
</g>
<g id="right">
<line x1="1898.2" y1="440.0" x2="1898.2" y2="922.0" stroke="#0fa854" stroke-width="4.7" />
<line x1="1898.8" y1="922.0" x2="1898.8" y2="1234.0" stroke="#0d5c63" stroke-width="3.6" />
<polygon points="1699.6,262.5 1779.7,288.9 1779.1,482.0 1699.1,451.9" fill="#d2d2d2" stroke="#231f20" stroke-width="1.7" stroke-linejoin="round" />
<polygon points="1779.7,288.9 1972.8,233.7 1972.7,424.4 1779.1,482.0" fill="#d2d2d2" stroke="#231f20" stroke-width="1.7" stroke-linejoin="round" />
<polygon points="1699.6,262.5 1895.2,205.2 1972.8,233.7 1779.7,288.9" fill="#d2d2d2" stroke="#231f20" stroke-width="1.7" stroke-linejoin="round" />
<path d="M1802,185.9 L1879.4,213.9 L1867.7,265.2 L1782.2,237 C1774,230 1772,214 1779,200 C1785,189 1794,184.5 1802,185.9 Z" fill="#d2d2d2" stroke="#231f20" stroke-width="1.7" stroke-linejoin="round"/>
<ellipse cx="1874.3" cy="239.6" rx="17.4" ry="27.1" transform="rotate(18.0 1874.3 239.6)" fill="#d2d2d2" stroke="#231f20" stroke-width="1.7" />
<line x1="1820.4" y1="351.8" x2="1898.6" y2="351.8" stroke="#231f20" stroke-width="1.6" />
<path d="M1898.8,302.3 a8.09,6.60 0 1 0 -0.73,15.40 a8.09,6.60 0 1 0 -0.73,15.40 a8.09,6.60 0 1 0 -0.73,15.40" fill="none" stroke="#231f20" stroke-width="1.5" />
<polyline points="1898.8,302.3 1898.8,284.4 1849.2,303.5" fill="none" stroke="#231f20" stroke-width="1.4" />
<path d="M1902.0,352.5 a7.50,6.80 0 1 1 14.23,1.17 a7.50,6.80 0 1 1 14.23,1.17 a7.50,6.80 0 1 1 14.23,1.17" fill="none" stroke="#231f20" stroke-width="1.5" />
<polyline points="1944.7,356.0 1962.7,356.0 1962.7,376.5 1909.7,399.0" fill="none" stroke="#231f20" stroke-width="1.4" />
<path d="M1837.0,401.6 a7.72,6.50 0 1 1 11.70,-8.92 a7.72,6.50 0 1 1 11.70,-8.92 a7.72,6.50 0 1 1 11.70,-8.92 a7.72,6.50 0 1 1 11.70,-8.92 a7.72,6.50 0 1 1 11.70,-8.92" fill="none" stroke="#231f20" stroke-width="1.5" />
<polyline points="1837.0,401.6 1837.0,421.7 1785.8,443.5" fill="none" stroke="#231f20" stroke-width="1.4" />
<polygon points="1856.8,303.0 1894.3,288.5 1892.7,284.3 1855.2,298.8" fill="#d2d2d2" stroke="#231f20" stroke-width="1.4" stroke-linejoin="round" />
<line x1="1856.0" y1="300.9" x2="1893.5" y2="286.4" stroke="#231f20" stroke-width="1.1" />
<polygon points="1917.4,398.3 1959.4,380.4 1957.6,376.2 1915.6,394.1" fill="#d2d2d2" stroke="#231f20" stroke-width="1.4" stroke-linejoin="round" />
<line x1="1916.5" y1="396.2" x2="1958.5" y2="378.3" stroke="#231f20" stroke-width="1.1" />
<polygon points="1793.4,442.8 1834.4,425.3 1832.6,421.1 1791.6,438.6" fill="#d2d2d2" stroke="#231f20" stroke-width="1.4" stroke-linejoin="round" />
<line x1="1792.5" y1="440.7" x2="1833.5" y2="423.2" stroke="#231f20" stroke-width="1.1" />
<circle cx="1898.6" cy="353.8" r="4.2" fill="#0ea651" />
<rect x="340" y="947.0" width="1558.2" height="7.0" fill="#808285" stroke="#0d5c63" stroke-width="1.3"/>
<circle cx="339.9" cy="951.0" r="8.5" fill="#0ea651" />
<circle cx="1898.2" cy="847.9" r="8.7" fill="#0ea651" />
<circle cx="1898.2" cy="874.4" r="8.7" fill="#0ea651" />
<circle cx="1898.2" cy="922.1" r="8.7" fill="#ed1c24" />
<circle cx="1898.2" cy="950.5" r="8.7" fill="#0ea651" />
<defs><pattern id="stip" width="13" height="11" patternUnits="userSpaceOnUse"><rect width="13" height="11" fill="#fff"/><circle cx="2" cy="2" r="0.55" fill="#8a8a80"/><circle cx="8.5" cy="6.5" r="0.5" fill="#9a9a90"/><circle cx="5" cy="9.5" r="0.4" fill="#aaa"/></pattern></defs>
<polygon points="1782.0,1147.2 1792.0,1168.6 1802.1,1192.1 1801.2,1198.8 1795.7,1205.8 1815.1,1218.9 1813.0,1230.6 1815.5,1241.5 1822.2,1250.7 1828.9,1275.0 1828.9,1275.0 1832.6,1267.5 1835.6,1249.0 1831.9,1234.0 1835.6,1217.2 1838.6,1200.5 1834.7,1182.0 1830.2,1168.6 1835.6,1153.6 1837.3,1137.6" fill="url(#stip)" stroke="none" stroke-width="0" stroke-linejoin="round" />
<polygon points="1989.7,1147.2 1983.0,1168.6 1977.1,1183.7 1971.3,1193.8 1969.6,1203.8 1964.6,1215.2 1971.3,1224.7 1967.1,1232.3 1954.5,1244.0 1953.7,1260.8 1961.2,1257.4 1957.9,1245.7 1952.0,1237.3 1944.5,1223.9 1941.9,1207.2 1946.1,1190.4 1948.6,1177.0 1944.5,1163.6 1939.4,1146.9 1937.8,1136.8" fill="url(#stip)" stroke="none" stroke-width="0" stroke-linejoin="round" />
<rect x="1824.8" y="1195.6" width="1.5" height="1.5" fill="#555"/>
<rect x="1806.7" y="1207.6" width="1.5" height="1.5" fill="#555"/>
<rect x="1807.7" y="1188.9" width="1.5" height="1.5" fill="#555"/>
<rect x="1962.7" y="1201.8" width="1.5" height="1.5" fill="#555"/>
<rect x="1963.9" y="1182.2" width="1.5" height="1.5" fill="#555"/>
<rect x="1956.3" y="1160.4" width="1.5" height="1.5" fill="#555"/>
<line x1="1840.2" y1="1264.0" x2="1905.5" y2="1234.4" stroke="#4e4d34" stroke-width="2.8" />
<line x1="1840.1" y1="1260.1" x2="1890.5" y2="1279.6" stroke="#4e4d34" stroke-width="2.8" />
<line x1="1848.4" y1="1267.2" x2="1913.7" y2="1237.6" stroke="#4e4d34" stroke-width="2.8" />
<line x1="1851.4" y1="1255.0" x2="1901.7" y2="1274.6" stroke="#4e4d34" stroke-width="2.8" />
<line x1="1856.7" y1="1270.4" x2="1921.9" y2="1240.8" stroke="#4e4d34" stroke-width="2.8" />
<line x1="1862.6" y1="1249.9" x2="1912.9" y2="1269.5" stroke="#4e4d34" stroke-width="2.8" />
<line x1="1864.9" y1="1273.5" x2="1930.1" y2="1243.9" stroke="#4e4d34" stroke-width="2.8" />
<line x1="1873.8" y1="1244.8" x2="1924.2" y2="1264.4" stroke="#4e4d34" stroke-width="2.8" />
<line x1="1873.1" y1="1276.7" x2="1938.3" y2="1247.1" stroke="#4e4d34" stroke-width="2.8" />
<line x1="1885.0" y1="1239.8" x2="1935.4" y2="1259.3" stroke="#4e4d34" stroke-width="2.8" />
<line x1="1881.3" y1="1279.9" x2="1946.5" y2="1250.3" stroke="#4e4d34" stroke-width="2.8" />
<line x1="1896.2" y1="1234.7" x2="1946.6" y2="1254.2" stroke="#4e4d34" stroke-width="2.8" />
<line x1="1849.3" y1="1149.4" x2="1849.3" y2="1260.8" stroke="#4e4d34" stroke-width="2.6" />
<line x1="1888.0" y1="1159.9" x2="1888.0" y2="1279.2" stroke="#4e4d34" stroke-width="2.6" />
<line x1="1937.8" y1="1141.0" x2="1937.8" y2="1252.4" stroke="#4e4d34" stroke-width="2.6" />
<polygon points="1846.5,1159.9 1898.9,1136.8 1937.8,1153.2 1888.0,1175.3" fill="none" stroke="#4e4d34" stroke-width="2.7" stroke-linejoin="round" />
<line x1="1898.8" y1="1125.0" x2="1898.8" y2="1234.8" stroke="#0d5c63" stroke-width="3.7" />
<polyline points="1782.0,1147.2 1792.0,1168.6 1802.1,1192.1 1801.2,1198.8 1795.7,1205.8 1815.1,1218.9 1813.0,1230.6 1815.5,1241.5 1822.2,1250.7 1828.9,1275.0" fill="none" stroke="#4e4d34" stroke-width="3.0" stroke-linejoin="round" stroke-linecap="round"/>
<polyline points="1837.3,1137.6 1835.6,1153.6 1830.2,1168.6 1834.7,1182.0 1838.6,1200.5 1835.6,1217.2 1831.9,1234.0 1835.6,1249.0 1832.6,1267.5 1828.9,1275.0" fill="none" stroke="#4e4d34" stroke-width="3.0" stroke-linejoin="round" stroke-linecap="round"/>
<polyline points="1828.9,1275.0 1831.4,1270.8 1840.6,1275.0 1852.3,1284.2 1859.0,1294.3 1889.2,1298.4 1902.6,1294.3 1921.0,1300.1 1925.2,1290.1 1937.8,1280.9 1954.5,1265.8 1961.2,1257.4 1957.9,1245.7" fill="none" stroke="#4e4d34" stroke-width="3.0" stroke-linejoin="round" stroke-linecap="round"/>
<polyline points="1989.7,1147.2 1983.0,1168.6 1977.1,1183.7 1971.3,1193.8 1969.6,1203.8 1964.6,1215.2 1971.3,1224.7 1967.1,1232.3 1954.5,1244.0 1953.7,1260.8" fill="none" stroke="#4e4d34" stroke-width="3.0" stroke-linejoin="round" stroke-linecap="round"/>
<polyline points="1937.8,1136.8 1939.4,1146.9 1944.5,1163.6 1948.6,1177.0 1946.1,1190.4 1941.9,1207.2 1944.5,1223.9 1952.0,1237.3 1957.9,1245.7 1961.2,1257.4" fill="none" stroke="#4e4d34" stroke-width="3.0" stroke-linejoin="round" stroke-linecap="round"/>
<polyline points="1735.1,1139.8 1751.0,1135.1 1767.7,1146.0 1782.0,1147.2 1798.7,1149.9 1806.3,1138.5 1818.8,1142.2 1837.3,1137.6 1859.0,1135.1 1864.1,1128.8 1874.1,1136.8 1885.0,1131.8 1899.2,1130.9 1917.7,1132.6 1937.8,1136.0 1955.8,1138.1 1955.3,1146.0 1971.3,1150.2 1989.7,1147.2 2001.4,1152.7 2014.0,1144.8 2033.2,1144.3 2057.5,1147.7" fill="none" stroke="#4e4d34" stroke-width="3.0" stroke-linejoin="round" stroke-linecap="round"/>
<rect x="24" y="6" width="4" height="1337" fill="#000"/>
<rect x="24" y="6" width="2066" height="3.8" fill="#000"/>
<rect x="2087.1" y="6" width="3" height="1337" fill="#000"/>
</g>
<g id="labels" style="will-change:transform">
<text x="282.0" y="128.0" font-size="31.5" fill="#231f20" stroke="#231f20" stroke-width="0.35" textLength="70.0" lengthAdjust="spacingAndGlyphs">Plant</text>
<text x="1312.1" y="127.7" font-size="34.5" fill="#231f20" stroke="#231f20" stroke-width="0.5" textLength="119.4" lengthAdjust="spacingAndGlyphs" class="b">Control</text>
<text x="1446.8" y="127.7" font-size="34.5" fill="#231f20" stroke="#231f20" stroke-width="0.5" textLength="84.0" lengthAdjust="spacingAndGlyphs" class="b">room</text>
<text x="1725.5" y="120.6" font-size="34.5" fill="#231f20" stroke="#231f20" stroke-width="0.5" textLength="58.9" lengthAdjust="spacingAndGlyphs" class="b">Sub</text>
<text x="1799.9" y="120.6" font-size="34.5" fill="#231f20" stroke="#231f20" stroke-width="0.5" textLength="112.5" lengthAdjust="spacingAndGlyphs" class="b">station</text>
<text x="1717.2" y="153.9" font-size="34.5" fill="#231f20" stroke="#231f20" stroke-width="0.5" textLength="203.3" lengthAdjust="spacingAndGlyphs" class="b">transformer</text>
<text x="856.7" y="210.9" font-size="31.5" fill="#231f20" stroke="#231f20" stroke-width="0.35" textLength="116.2" lengthAdjust="spacingAndGlyphs">Interface</text>
<text x="986.3" y="210.9" font-size="31.5" fill="#231f20" stroke="#231f20" stroke-width="0.35" textLength="106.2" lengthAdjust="spacingAndGlyphs">cabinet</text>
<text x="1298.4" y="222.3" font-size="31.5" fill="#231f20" stroke="#231f20" stroke-width="0.35" textLength="96.5" lengthAdjust="spacingAndGlyphs">System</text>
<text x="1407.3" y="222.3" font-size="31.5" fill="#231f20" stroke="#231f20" stroke-width="0.35" textLength="115.5" lengthAdjust="spacingAndGlyphs">cabinets</text>
<text x="944.5" y="406.8" font-size="31.5" fill="#2156ae" stroke="#2156ae" stroke-width="0.35" textLength="96.4" lengthAdjust="spacingAndGlyphs">Barrier</text>
<text x="972.0" y="439.7" font-size="31.5" fill="#2156ae" stroke="#2156ae" stroke-width="0.35" textLength="37.8" lengthAdjust="spacingAndGlyphs">0V</text>
<text x="763.0" y="442.0" font-size="31.5" fill="#ed1c24" stroke="#ed1c24" stroke-width="0.35" textLength="95.0" lengthAdjust="spacingAndGlyphs">Screen</text>
<text x="783.7" y="537.4" font-size="31.5" fill="#0ea651" stroke="#0ea651" stroke-width="0.35" textLength="105.5" lengthAdjust="spacingAndGlyphs">Armour</text>
<text x="386.0" y="521.6" font-size="31.5" fill="#0ea651" stroke="#0ea651" stroke-width="0.35" textLength="131.6" lengthAdjust="spacingAndGlyphs">Luminaire</text>
<text x="513.6" y="656.3" font-size="31.5" fill="#231f20" stroke="#231f20" stroke-width="0.35" textLength="85.8" lengthAdjust="spacingAndGlyphs">Motor</text>
<text x="1619.5" y="551.9" font-size="31.5" fill="#ed1c24" stroke="#ed1c24" stroke-width="0.35" textLength="136.4" lengthAdjust="spacingAndGlyphs">Computer</text>
<text x="1768.6" y="551.9" font-size="31.5" fill="#ed1c24" stroke="#ed1c24" stroke-width="0.35" textLength="38.6" lengthAdjust="spacingAndGlyphs">0V</text>
<text x="1726.6" y="645.5" font-size="31.5" fill="#0d5c63" stroke="#0d5c63" stroke-width="0.35" textLength="126.3" lengthAdjust="spacingAndGlyphs">Electrical</text>
<text x="1711.7" y="679.0" font-size="31.5" fill="#0d5c63" stroke="#0d5c63" stroke-width="0.35" textLength="154.8" lengthAdjust="spacingAndGlyphs">distribution</text>
<text x="1741.6" y="710.8" font-size="31.5" fill="#0d5c63" stroke="#0d5c63" stroke-width="0.35" textLength="97.4" lengthAdjust="spacingAndGlyphs">busbar</text>
<text x="1586.1" y="806.5" font-size="31.5" fill="#0d5c63" stroke="#0d5c63" stroke-width="0.35" textLength="37.6" lengthAdjust="spacingAndGlyphs">0V</text>
<text x="1636.4" y="806.5" font-size="31.5" fill="#0d5c63" stroke="#0d5c63" stroke-width="0.35" textLength="87.8" lengthAdjust="spacingAndGlyphs">Power</text>
<text x="1607.7" y="839.3" font-size="31.5" fill="#0d5c63" stroke="#0d5c63" stroke-width="0.35" textLength="96.6" lengthAdjust="spacingAndGlyphs">busbar</text>
<text x="742.3" y="831.3" font-size="31.5" fill="#0ea651" stroke="#0ea651" stroke-width="0.35" textLength="40.2" lengthAdjust="spacingAndGlyphs">0V</text>
<text x="793.6" y="831.3" font-size="31.5" fill="#0ea651" stroke="#0ea651" stroke-width="0.35" textLength="82.7" lengthAdjust="spacingAndGlyphs">Clean</text>
<text x="888.0" y="831.3" font-size="31.5" fill="#0ea651" stroke="#0ea651" stroke-width="0.35" textLength="97.8" lengthAdjust="spacingAndGlyphs">busbar</text>
<text x="1074.2" y="1035.9" font-size="31.5" fill="#0ea651" stroke="#0ea651" stroke-width="0.35" textLength="69.8" lengthAdjust="spacingAndGlyphs">Plant</text>
<text x="1153.1" y="1035.9" font-size="31.5" fill="#0ea651" stroke="#0ea651" stroke-width="0.35" textLength="68.0" lengthAdjust="spacingAndGlyphs">bond</text>
<text x="941.1" y="1068.9" font-size="31.5" fill="#0ea651" stroke="#0ea651" stroke-width="0.35" textLength="121.6" lengthAdjust="spacingAndGlyphs">(structure</text>
<text x="1078.2" y="1068.9" font-size="31.5" fill="#0ea651" stroke="#0ea651" stroke-width="0.35" textLength="14.4" lengthAdjust="spacingAndGlyphs">+</text>
<text x="1108.1" y="1068.9" font-size="31.5" fill="#0ea651" stroke="#0ea651" stroke-width="0.35" textLength="150.8" lengthAdjust="spacingAndGlyphs">conductors</text>
<text x="1272.0" y="1068.9" font-size="31.5" fill="#0ea651" stroke="#0ea651" stroke-width="0.35" textLength="14.4" lengthAdjust="spacingAndGlyphs">+</text>
<text x="1301.9" y="1068.9" font-size="31.5" fill="#0ea651" stroke="#0ea651" stroke-width="0.35" textLength="55.5" lengthAdjust="spacingAndGlyphs">soil)</text>
<text x="520.5" y="1124.5" font-size="31.5" fill="#0ea651" stroke="#0ea651" stroke-width="0.35" textLength="122.5" lengthAdjust="spacingAndGlyphs">Lightning</text>
<text x="657.7" y="1124.5" font-size="31.5" fill="#0ea651" stroke="#0ea651" stroke-width="0.35" textLength="71.8" lengthAdjust="spacingAndGlyphs">earth</text>
<text x="1459.4" y="1119.5" font-size="31.5" fill="#0ea651" stroke="#0ea651" stroke-width="0.35" textLength="85.9" lengthAdjust="spacingAndGlyphs">Power</text>
<text x="1556.8" y="1119.5" font-size="31.5" fill="#0ea651" stroke="#0ea651" stroke-width="0.35" textLength="90.8" lengthAdjust="spacingAndGlyphs">system</text>
<text x="1504.0" y="1154.2" font-size="31.5" fill="#0ea651" stroke="#0ea651" stroke-width="0.35" textLength="97.4" lengthAdjust="spacingAndGlyphs">ground</text>
<line x1="1038.2" y1="237.6" x2="1092.6" y2="262.9" stroke="#231f20" stroke-width="1.5" />
<polygon points="1106.9,269.5 1084.5,267.9 1092.6,262.9 1091.2,253.4" fill="#231f20"/>
<line x1="1388.4" y1="233.4" x2="1358.4" y2="294.6" stroke="#231f20" stroke-width="1.5" />
<polygon points="1351.5,308.7 1353.6,286.3 1358.4,294.6 1367.9,293.4" fill="#231f20"/>
<line x1="1436.4" y1="232.8" x2="1477.1" y2="350.6" stroke="#231f20" stroke-width="1.5" />
<polygon points="1482.2,365.5 1467.8,348.3 1477.1,350.6 1482.9,343.0" fill="#231f20"/>
<line x1="1026.5" y1="415.2" x2="1107.1" y2="428.7" stroke="#2156ae" stroke-width="1.4" />
<polygon points="1122.6,431.3 1100.6,435.7 1107.1,428.7 1103.2,419.9" fill="#2156ae"/>
<line x1="749.6" y1="433.4" x2="687.4" y2="446.5" stroke="#ed1c24" stroke-width="1.4" />
<polygon points="672.0,449.8 690.9,437.6 687.4,446.5 694.2,453.3" fill="#ed1c24"/>
<line x1="769.7" y1="526.4" x2="705.6" y2="539.6" stroke="#0ea651" stroke-width="1.4" />
<polygon points="690.2,542.8 709.2,530.7 705.6,539.6 712.4,546.4" fill="#0ea651"/>
<line x1="435.5" y1="527.8" x2="371.8" y2="541.7" stroke="#0ea651" stroke-width="1.4" />
<polygon points="356.4,545.0 375.2,532.7 371.8,541.7 378.6,548.4" fill="#0ea651"/>
<line x1="1602.3" y1="537.2" x2="1532.4" y2="549.3" stroke="#ed1c24" stroke-width="1.4" />
<polygon points="1516.9,552.0 1536.2,540.5 1532.4,549.3 1539.0,556.3" fill="#ed1c24"/>
<line x1="1780.5" y1="718.7" x2="1780.5" y2="779.0" stroke="#0ea651" stroke-width="1.2" />
<polygon points="1780.5,794.8 1772.5,773.8 1780.5,779.0 1788.5,773.8" fill="#0ea651"/>
<line x1="1585.4" y1="818.0" x2="1523.2" y2="818.0" stroke="#0d5c63" stroke-width="1.6" />
<polygon points="1507.5,818.0 1528.5,810.0 1523.2,818.0 1528.5,826.0" fill="#0d5c63"/>
<line x1="990.2" y1="818.9" x2="1048.0" y2="818.9" stroke="#0ea651" stroke-width="1.4" />
<polygon points="1063.8,818.9 1042.8,826.9 1048.0,818.9 1042.8,810.9" fill="#0ea651"/>
<line x1="1145.2" y1="1006.4" x2="1169.3" y2="972.4" stroke="#0ea651" stroke-width="1.4" />
<polygon points="1178.4,959.5 1172.8,981.3 1169.3,972.4 1159.7,972.0" fill="#0ea651"/>
<line x1="502.5" y1="1107.4" x2="372.6" y2="1107.4" stroke="#0ea651" stroke-width="1.4" />
<polygon points="356.8,1107.4 377.8,1099.4 372.6,1107.4 377.8,1115.4" fill="#0ea651"/>
<line x1="1665.8" y1="1107.3" x2="1800.2" y2="1107.3" stroke="#0ea651" stroke-width="1.4" />
<polygon points="1816.0,1107.3 1795.0,1115.3 1800.2,1107.3 1795.0,1099.3" fill="#0ea651"/>
</g>
</svg>
</body></html>
